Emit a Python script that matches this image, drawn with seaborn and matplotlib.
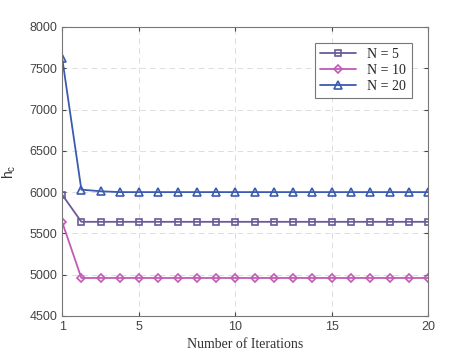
import numpy as np
import pandas as pd
import matplotlib
matplotlib.use("Agg")
import matplotlib.pyplot as plt
import seaborn as sns

iterations = list(range(1, 21))
h_n5 = [5970] + [5640] * 19
h_n10 = [5640] + [4960] * 19
h_n20 = [7630, 6030, 6010] + [6000] * 17
labels = ["N = 5", "N = 10", "N = 20"]
colors = ["#6A5B98", "#C25BB5", "#3B5BB0"]
markers = ["s", "D", "^"]

df = pd.DataFrame({
    "it": iterations * 3,
    "h": h_n5 + h_n10 + h_n20,
    "N": [labels[0]] * 20 + [labels[1]] * 20 + [labels[2]] * 20,
})

sns.set_style("white")
plt.rcParams["font.family"] = ["Liberation Sans", "DejaVu Sans"]

fig = plt.figure(figsize=(4.74, 3.55), dpi=100)
ax = fig.add_axes([0.131, 0.110, 0.772, 0.814])

sizes = {"s": 4.3, "D": 4.0, "^": 5.3}
for lab, col, mk in zip(labels, colors, markers):
    sub = df[df["N"] == lab]
    sns.lineplot(data=sub, x="it", y="h", ax=ax, color=col, marker=mk,
                 markersize=sizes[mk], markerfacecolor="none", markeredgecolor=col,
                 markeredgewidth=1.2, linewidth=1.3, legend=False)

ax.set_xlim(1, 20)
ax.set_ylim(4500, 8000)
ax.set_xticks([1, 5, 10, 15, 20])
ax.set_yticks(np.arange(4500, 8001, 500))
ax.grid(True, linestyle=(0, (6, 4)), color="#dddddd", linewidth=0.7)
for s in ax.spines.values():
    s.set_color("#777777")
    s.set_linewidth(0.8)
ax.tick_params(axis="both", labelsize=9, colors="#444444", direction="in",
               length=3, top=True, right=True, bottom=True, left=True)
ax.set_xlabel("Number of Iterations", family="Liberation Serif", fontsize=10,
              color="#333333")
ax.set_ylabel(r"h$_\mathregular{c}$", fontsize=10, color="#333333", labelpad=8)
leg = ax.legend(ax.lines[:3], labels, loc="upper right",
                prop={"family": "Liberation Serif", "size": 10},
                frameon=True, fancybox=False, borderpad=0.4, handlelength=2.6,
                labelspacing=0.2, bbox_to_anchor=(0.975, 0.97))
leg.get_frame().set_edgecolor("#555555")
leg.get_frame().set_linewidth(0.8)

plt.savefig("out.png", dpi=100)
